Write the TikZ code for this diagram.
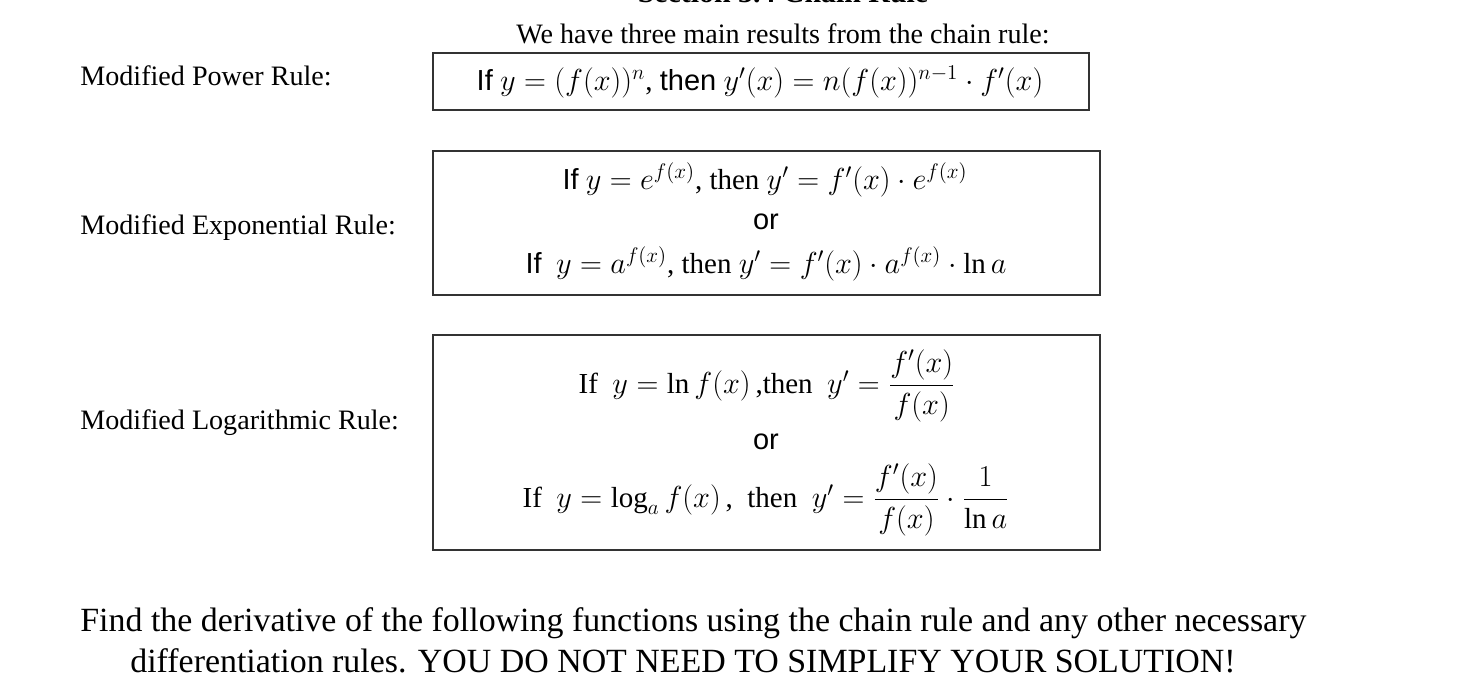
\documentclass[tikz,border=0pt]{standalone}
\usepackage{amsmath}
\usepackage{fontspec}
\setmainfont{Liberation Serif}
\newfontfamily\arialf{Liberation Sans}
\begin{document}
\begin{tikzpicture}[x=0.02cm,y=-0.02cm,inner sep=0pt,
  lbl/.style={anchor=west,font=\fontsize{16}{18}\selectfont},
  rbox/.style={draw=black!80,line width=0.7pt},
  eq/.style={font=\fontsize{16.5}{19}\selectfont}]
\useasboundingbox (0,0) rectangle (1473,692);
\begin{scope}
\clip (0,0) rectangle (1473,692);
\node[font=\bfseries\fontsize{17}{19}\selectfont] (hd) at (783,-8) {Section 3.4 Chain Rule};
\end{scope}
\node[font=\fontsize{16}{18}\selectfont] (intro) at (783,34) {We have three main results from the chain rule:};
\node[lbl] (l1) at (80,76) {Modified Power Rule:};
\node[lbl] (l2) at (80,228) {Modified Exponential Rule:};
\node[lbl] (l3) at (80,423) {Modified Logarithmic Rule:};
\draw[rbox] (433,53) rectangle (1089,110);
\draw[rbox] (433,151) rectangle (1100,295);
\draw[rbox] (433,335) rectangle (1100,550);
\node[eq] (e1) at (760,82) {{\arialf If} $y=(f(x))^n$, {\arialf then} $y'(x)=n(f(x))^{n-1}\cdot f'(x)$};
\node[eq] (e2) at (765,180) {{\arialf If} $y=e^{f(x)}$, then $y'=f'(x)\cdot e^{f(x)}$};
\node[eq] (or1) at (766,222) {\arialf or};
\node[eq] (e3) at (766,264) {{\arialf If} \ $y=a^{f(x)}$, then $y'=f'(x)\cdot a^{f(x)}\cdot\ln a$};
\node[eq] (e4) at (767,386) {If \ $y=\ln f(x)$\,,then \ $y'=\dfrac{f'(x)}{f(x)}$};
\node[eq] (or2) at (766,442) {\arialf or};
\node[eq] (e5) at (766,500) {If \ $y=\log_a f(x)$\,, \ then \ $y'=\dfrac{f'(x)}{f(x)}\cdot\dfrac{1}{\ln a}$};
\node[anchor=west,font=\fontsize{19.3}{22}\selectfont] (f1) at (80,623) {Find the derivative of the following functions using the chain rule and any other necessary};
\node[anchor=west,font=\fontsize{19.3}{22}\selectfont] (f2) at (130,661) {differentiation rules. YOU DO NOT NEED TO SIMPLIFY YOUR SOLUTION!};
\end{tikzpicture}
\end{document}
